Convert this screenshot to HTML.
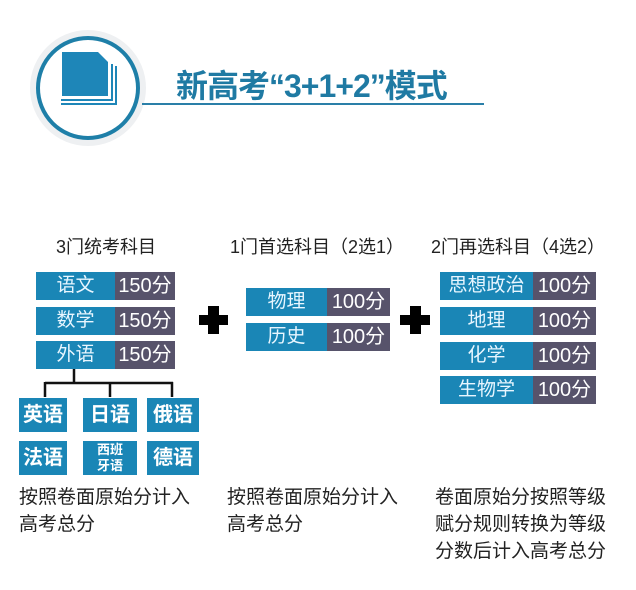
<!DOCTYPE html>
<html><head><meta charset="utf-8"><style>
body{margin:0;width:636px;height:590px;background:#fff;position:relative;overflow:hidden;font-family:"Liberation Sans","Noto Sans CJK SC",sans-serif}
.a{position:absolute}
.row{position:absolute;height:28px;display:flex;font-size:19px;color:#fff;line-height:28px}
.l{background:#1a86b6;text-align:center;color:#e8f6ff}
.r{background:#57536b;text-align:center;font-size:20px}
.lang{position:absolute;background:#1a86b6;color:#fff;font-weight:bold;font-size:20px;text-align:center;line-height:34px;height:34px}
.h{position:absolute;font-size:18px;color:#222;top:233px}
.t{position:absolute;font-size:19px;color:#222;line-height:27px;top:484px}
.plus{position:absolute;background:#000}
</style></head><body>
<svg class="a" style="left:0;top:0" width="636" height="220">
<circle cx="88" cy="88" r="58" fill="#eef0f2"/>
<circle cx="88" cy="88" r="50" fill="#fff" stroke="#1e7fa8" stroke-width="4"/>
<path d="M62 52 H98 L108 62 V96 H62Z" fill="#1e86b8"/>
<path d="M61 100 H112 V64" fill="none" stroke="#1e86b8" stroke-width="2"/>
<path d="M61 104 H116 V66" fill="none" stroke="#1e86b8" stroke-width="2"/>
<line x1="142" y1="104" x2="484" y2="104" stroke="#2a7fa8" stroke-width="2"/>
</svg>
<div class="a" style="left:176px;top:61px;font-size:32px;font-weight:bold;color:#1f7aa3;letter-spacing:-1px">新高考“3+1+2”模式</div>
<div class="h" style="left:56px">3门统考科目</div>
<div class="h" style="left:230px">1门首选科目（2选1）</div>
<div class="h" style="left:431px">2门再选科目（4选2）</div>

<div class="row" style="left:36px;top:272px"><div class="l" style="width:79px">语文</div><div class="r" style="width:60px">150分</div></div>
<div class="row" style="left:36px;top:307px"><div class="l" style="width:79px">数学</div><div class="r" style="width:60px">150分</div></div>
<div class="row" style="left:36px;top:341px"><div class="l" style="width:79px">外语</div><div class="r" style="width:60px">150分</div></div>
<svg class="a" style="left:0;top:365px" width="240" height="40"><path d="M74 4 V18 M45 18 H173 M45 17 V32 M110 17 V32 M172 17 V32" stroke="#111" stroke-width="2.5" fill="none"/></svg>
<div class="lang" style="left:19px;top:398px;width:48px">英语</div>
<div class="lang" style="left:83px;top:398px;width:54px">日语</div>
<div class="lang" style="left:147px;top:398px;width:52px">俄语</div>
<div class="lang" style="left:19px;top:441px;width:48px">法语</div>
<div class="lang" style="left:83px;top:441px;width:54px;font-size:13px;line-height:16px;padding-top:1px;height:33px">西班<br>牙语</div>
<div class="lang" style="left:147px;top:441px;width:52px">德语</div>

<div class="row" style="left:246px;top:288px"><div class="l" style="width:81px">物理</div><div class="r" style="width:63px">100分</div></div>
<div class="row" style="left:246px;top:323px"><div class="l" style="width:81px">历史</div><div class="r" style="width:63px">100分</div></div>

<div class="row" style="left:440px;top:272px"><div class="l" style="width:93px">思想政治</div><div class="r" style="width:63px">100分</div></div>
<div class="row" style="left:440px;top:307px"><div class="l" style="width:93px">地理</div><div class="r" style="width:63px">100分</div></div>
<div class="row" style="left:440px;top:342px"><div class="l" style="width:93px">化学</div><div class="r" style="width:63px">100分</div></div>
<div class="row" style="left:440px;top:376px"><div class="l" style="width:93px">生物学</div><div class="r" style="width:63px">100分</div></div>

<div class="plus" style="left:199px;top:315px;width:29px;height:10px"></div>
<div class="plus" style="left:208px;top:306px;width:11px;height:28px"></div>
<div class="plus" style="left:400px;top:315px;width:30px;height:10px"></div>
<div class="plus" style="left:410px;top:306px;width:11px;height:28px"></div>

<div class="t" style="left:19px">按照卷面原始分计入<br>高考总分</div>
<div class="t" style="left:227px">按照卷面原始分计入<br>高考总分</div>
<div class="t" style="left:435px">卷面原始分按照等级<br>赋分规则转换为等级<br>分数后计入高考总分</div>
</body></html>
